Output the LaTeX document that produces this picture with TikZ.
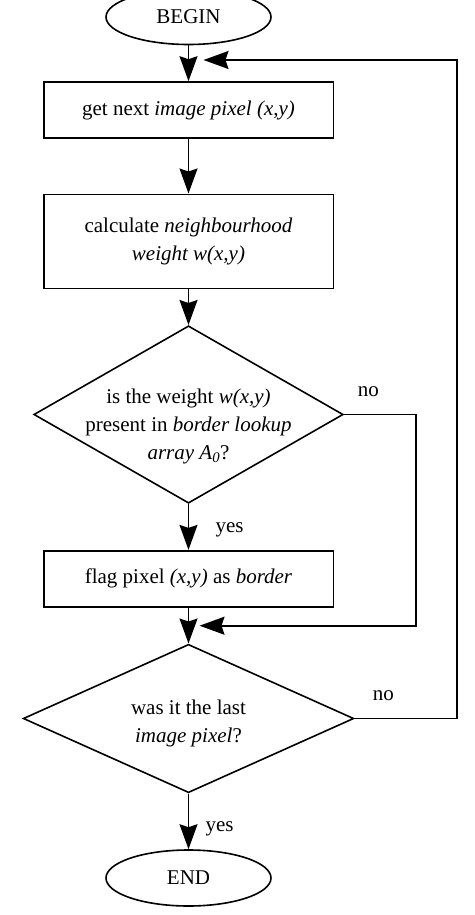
\documentclass[tikz,border=0pt]{standalone}
\usepackage{fontspec}
\setmainfont{Liberation Serif}
\usetikzlibrary{shapes.geometric, arrows.meta}

\begin{document}
\begin{tikzpicture}
            [x=1pt, y=-1pt, ->, >={Stealth[length=25pt, width=18pt, inset=3pt]}, line width=1.6pt, auto,
             font=\fontsize{21}{28}\selectfont]
            \useasboundingbox (0, 0) rectangle (474, 915);
            \node[shape=ellipse,draw=black,minimum width=165pt,minimum height=55pt] (begin) at (188.5, 17) {BEGIN};
            \node[shape=rectangle,draw=black,minimum width=289.6pt,minimum height=56pt] (getpix) at (188.5, 110) {get next \textit{image pixel (x,y)}};
            \node[shape=rectangle,draw=black,minimum width=289.6pt,minimum height=94pt,align=center] (calc) at (188.5, 241.3) {calculate \textit{neighbourhood}\\\textit{weight w(x,y)}};
            \node[shape=diamond,draw=black,minimum width=309.4pt,minimum height=177.4pt] (test1) at (188.5, 414.5) {};
            \node[align=center] (test1text) at (188.5, 426) {is the weight \textit{w(x,y)}\\present in \textit{border lookup}\\\textit{array A\textsubscript{0}}?};
            \node[shape=rectangle,draw=black,minimum width=289.6pt,minimum height=56pt] (flag) at (188.5, 578.7) {flag pixel \textit{(x,y)} as \textit{border}};
            \node[shape=diamond,draw=black,minimum width=330.6pt,minimum height=148.4pt] (test2) at (188.5, 718.5) {};
            \node[align=center] (test2text) at (188.5, 723.5) {was it the last\\\textit{image pixel}?};
            \node[shape=ellipse,draw=black,minimum width=165pt,minimum height=56pt] (end) at (188.5, 878) {END};

            \coordinate (join1) at (188.5, 60);
            \coordinate (back) at (457, 60);
            \coordinate (join2) at (188.5, 625.7);
            \coordinate (skip) at (415.7, 625.7);

            \path [->] (begin) edge node {} (getpix);
            \path [->] (getpix) edge node {} (calc);
            \path [->] (calc) edge node {} (test1);
            \path [->] (test1) edge node[xshift=23pt, yshift=-3pt] {yes} (flag);
            \path [->] (flag) edge node {} (test2);
            \path [->] (test2) edge node[xshift=13pt, yshift=-7pt] {yes} (end);
            \draw [->, shorten >=11pt] (test1.east) -| node[pos=0.17, above=14pt] {no} (skip) -- (join2);
            \draw [->, shorten >=15pt] (test2.east) -| node[pos=0.14, above=14pt] {no} (back) -- (join1);
        \end{tikzpicture}
\end{document}
